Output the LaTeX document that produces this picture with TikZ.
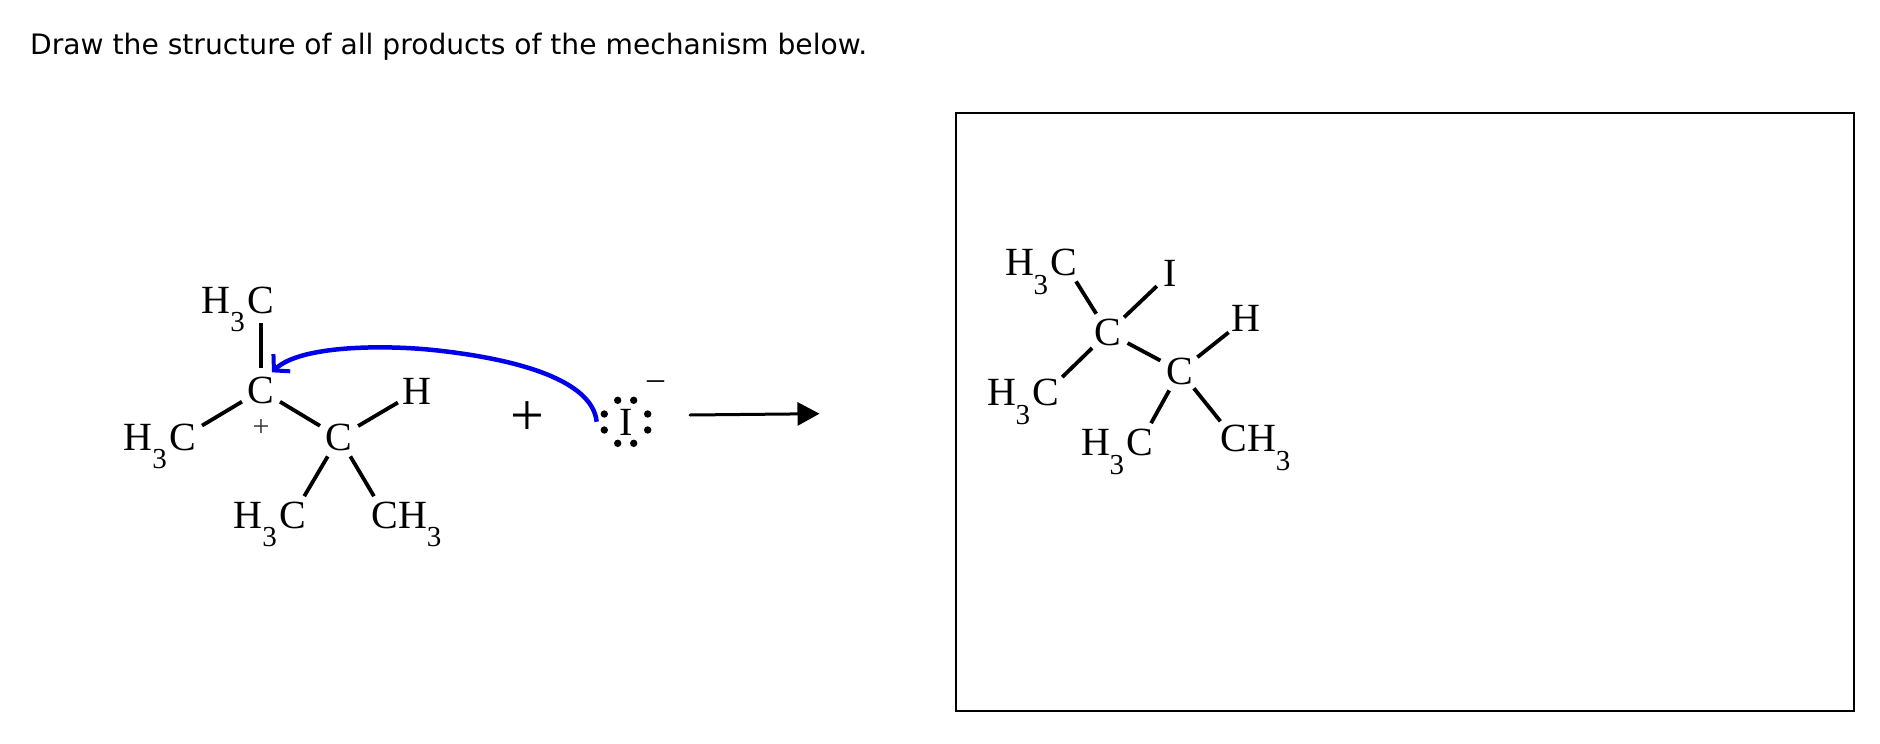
\documentclass[tikz,border=0pt]{standalone}
\usepackage{fontspec}
\setmainfont{Liberation Serif}
\newfontfamily\promptfont{DejaVu Sans}
\usetikzlibrary{arrows.meta}
\newcommand{\subthree}{\kern-0.5pt\raisebox{-18.5pt}{\fontsize{29}{29}\selectfont 3}}

\begin{document}
\begin{tikzpicture}[x=1pt,y=-1pt,
	atom/.style={circle,inner sep=0pt,minimum size=44pt,yshift=0.7pt,font=\fontsize{40}{44}\selectfont},
	smallatom/.style={atom,minimum size=36pt},
	hpart/.style={inner sep=0pt,anchor=base east,xshift=-16pt,font=\fontsize{40}{44}\selectfont},
	hpartr/.style={inner sep=0pt,anchor=base west,xshift=13pt,font=\fontsize{40}{44}\selectfont},
	bond/.style={line width=3.8pt},
	lonepair/.style={fill=black,circle,inner sep=0pt,minimum size=7.4pt},
	flow/.style={line width=4.5pt,color=curlyblue,-{Straight Barb[length=11pt,width=24pt,line width=4pt]}},
	rxn/.style={line width=3pt,line cap=round,-{Triangle[length=22pt,width=23pt]}}]
\definecolor{curlyblue}{RGB}{0,0,235}
\useasboundingbox (0,0) rectangle (1880,744);

\node[anchor=base west,inner sep=0pt,font=\promptfont\fontsize{28.15}{32}\selectfont] (prompt) at (30,54)%
	{Draw the structure of all products of the mechanism below.};

% carbons and end groups, reactant then product
\foreach \name/\x/\y/\txt in%
{%
	ca/261/391/C,cb/339/438/C,ct/261/301/C,cl/183/437.7/C,cd/293/516/C,ce/385.3/516/C,ha/417/392/H,%
	pa/1108/333.3/C,pb/1180/371.7/C,pt/1064.3/263.3/C,pl/1046.3/393.3/C,pd/1140.3/443.3/C,pe/1234.3/439.3/C,ph/1246/319.3/H%
}{%
	\node[atom] (\name) at (\x,\y) {\txt};
}%
\node[smallatom] (pi) at (1170,274.3) {I};
\node[smallatom] (io) at (626,422.7) {I};

\foreach \name in {ct,cl,cd,pt,pl,pd}%
{%
	\node[hpart] (\name h) at (\name.base) {H\subthree};
}%
\foreach \name in {ce,pe}%
{%
	\node[hpartr] (\name h) at (\name.base) {H\subthree};
}%

\foreach \a/\b in%
{%
	ca/ct,ca/cl,ca/cb,cb/ha,cb/cd,cb/ce,%
	pa/pt,pa/pl,pa/pb,pa/pi,pb/ph,pb/pd,pb/pe%
}{%
	\draw[bond] (\a) -- (\b);
}%

\node[font=\fontsize{30}{30}\selectfont,inner sep=0pt,text=black!80] (charge) at (261,428.5) {+};
\node[font=\fontsize{60}{60}\selectfont,inner sep=0pt] (plus) at (527.7,419) {+};
\node[font=\fontsize{34}{34}\selectfont,inner sep=0pt] (minus) at (655.5,385.5) {–};

% electrons round the iodide
\foreach \x/\y in%
{%
	617.7/400.3,633.7/400.3,617.7/443.3,633.7/443.3,604.3/414,604.3/430,647.7/414,647.7/430%
}{%
	\node[lonepair] (e\x\y) at (\x,\y) {};
}%

\coordinate (pairstart) at (596.7,421.7);
\coordinate (attack) at (272,372.3);
\draw[flow] (pairstart) .. controls (592,378) and (510,358) .. (433,350)%
	.. controls (385,345) and (300,345) .. (attack);

\coordinate (rxnstart) at (690,415);
\coordinate (rxnend) at (819.5,413.7);
\draw[rxn] (rxnstart) -- (rxnend);

\draw[line width=2pt] (955.6,112.7) rectangle (1853.6,711);
\end{tikzpicture}
\end{document}
